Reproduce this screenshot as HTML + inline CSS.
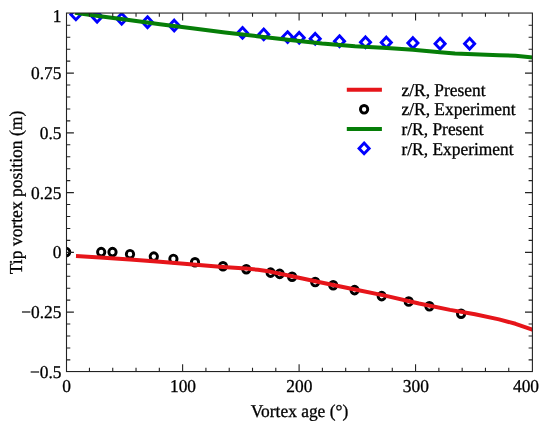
<!DOCTYPE html>
<html lang="en"><head><meta charset="utf-8"><title>Tip vortex position</title>
<style>html,body{margin:0;padding:0;background:#fff}svg{display:block}text{text-rendering:geometricPrecision;font-family:"Liberation Serif","DejaVu Serif",serif;font-size:17.4px;fill:#000;stroke:#000;stroke-width:0.3px}</style>
</head><body>
<svg width="550" height="430" viewBox="0 0 550 430">
<rect width="550" height="430" fill="#fff"/>
<defs><clipPath id="pa"><rect x="66.5" y="13.05" width="465.9" height="358.5"/></clipPath></defs>
<g clip-path="url(#pa)">
<g fill="none" stroke="#0000ff" stroke-width="2.9" stroke-linejoin="miter">
<path d="M75.9 9.05L80.95 14.4L75.9 19.75L70.85 14.4Z"/>
<path d="M97.1 11.35L102.15 16.7L97.1 22.05L92.05 16.7Z"/>
<path d="M121.7 13.45L126.75 18.8L121.7 24.15L116.65 18.8Z"/>
<path d="M147.5 16.85L152.55 22.2L147.5 27.55L142.45 22.2Z"/>
<path d="M174.2 20.15L179.25 25.5L174.2 30.85L169.15 25.5Z"/>
<path d="M242.5 27.55L247.55 32.9L242.5 38.25L237.45 32.9Z"/>
<path d="M263.7 29.05L268.75 34.4L263.7 39.75L258.65 34.4Z"/>
<path d="M287.6 31.75L292.65 37.1L287.6 42.45L282.55 37.1Z"/>
<path d="M299.2 32.45L304.25 37.8L299.2 43.15L294.15 37.8Z"/>
<path d="M315.2 33.45L320.25 38.8L315.2 44.15L310.15 38.8Z"/>
<path d="M339.5 35.85L344.55 41.2L339.5 46.55L334.45 41.2Z"/>
<path d="M365.5 36.95L370.55 42.3L365.5 47.65L360.45 42.3Z"/>
<path d="M386.3 37.15L391.35 42.5L386.3 47.85L381.25 42.5Z"/>
<path d="M412.9 37.65L417.95 43.0L412.9 48.35L407.85 43.0Z"/>
<path d="M440.1 38.35L445.15 43.7L440.1 49.05L435.05 43.7Z"/>
<path d="M469.6 38.35L474.65 43.7L469.6 49.05L464.55 43.7Z"/>
</g>
<polyline fill="none" stroke="#067e08" stroke-width="4" stroke-linejoin="round" points="75.0,12.8 100.0,16.2 127.0,19.8 160.0,24.2 192.0,28.3 225.0,32.5 257.0,36.2 290.0,40.0 322.0,43.5 355.0,46.2 387.0,48.0 413.0,49.7 440.0,52.3 455.0,53.6 480.0,54.6 499.0,55.2 515.5,55.8 533.0,57.6"/>
<g fill="none" stroke="#000" stroke-width="2.9">
<ellipse cx="66.2" cy="252.1" rx="3.65" ry="3.85"/>
<ellipse cx="101.2" cy="252.1" rx="3.65" ry="3.85"/>
<ellipse cx="112.5" cy="252.1" rx="3.65" ry="3.85"/>
<ellipse cx="130.0" cy="254.2" rx="3.65" ry="3.85"/>
<ellipse cx="153.8" cy="256.6" rx="3.65" ry="3.85"/>
<ellipse cx="173.4" cy="259.0" rx="3.65" ry="3.85"/>
<ellipse cx="195.0" cy="262.3" rx="3.65" ry="3.85"/>
<ellipse cx="223.0" cy="266.3" rx="3.65" ry="3.85"/>
<ellipse cx="246.3" cy="269.2" rx="3.65" ry="3.85"/>
<ellipse cx="270.6" cy="272.6" rx="3.65" ry="3.85"/>
<ellipse cx="279.7" cy="273.9" rx="3.65" ry="3.85"/>
<ellipse cx="292.1" cy="276.7" rx="3.65" ry="3.85"/>
<ellipse cx="315.2" cy="282.0" rx="3.65" ry="3.85"/>
<ellipse cx="333.2" cy="285.2" rx="3.65" ry="3.85"/>
<ellipse cx="354.6" cy="290.1" rx="3.65" ry="3.85"/>
<ellipse cx="381.7" cy="296.1" rx="3.65" ry="3.85"/>
<ellipse cx="408.7" cy="301.5" rx="3.65" ry="3.85"/>
<ellipse cx="429.4" cy="306.3" rx="3.65" ry="3.85"/>
<ellipse cx="461.1" cy="313.7" rx="3.65" ry="3.85"/>
</g>
<polyline fill="none" stroke="#e6151a" stroke-width="4" stroke-linejoin="round" points="76.0,256.1 100.0,257.5 130.0,259.6 160.0,261.8 190.0,264.3 223.0,266.9 246.0,268.6 258.0,269.8 270.0,271.6 292.0,276.3 320.0,282.3 355.0,289.5 385.0,295.6 419.0,303.5 450.0,309.9 475.0,314.3 499.0,319.4 515.5,323.8 533.0,329.8"/>
</g>
<g stroke="#222" stroke-width="1.1" fill="none">
<rect x="66.5" y="13.05" width="465.9" height="358.5"/>
<path d="M89.45 371.55v-3.8M89.45 13.05v3.8M112.74 371.55v-3.8M112.74 13.05v3.8M136.03 371.55v-3.8M136.03 13.05v3.8M159.33 371.55v-3.8M159.33 13.05v3.8M182.62 371.55v-7.4M182.62 13.05v7.4M205.92 371.55v-3.8M205.92 13.05v3.8M229.22 371.55v-3.8M229.22 13.05v3.8M252.51 371.55v-3.8M252.51 13.05v3.8M275.80 371.55v-3.8M275.80 13.05v3.8M299.10 371.55v-7.4M299.10 13.05v7.4M322.39 371.55v-3.8M322.39 13.05v3.8M345.69 371.55v-3.8M345.69 13.05v3.8M368.98 371.55v-3.8M368.98 13.05v3.8M392.28 371.55v-3.8M392.28 13.05v3.8M415.57 371.55v-7.4M415.57 13.05v7.4M438.87 371.55v-3.8M438.87 13.05v3.8M462.16 371.55v-3.8M462.16 13.05v3.8M485.46 371.55v-3.8M485.46 13.05v3.8M508.75 371.55v-3.8M508.75 13.05v3.8M66.50 25.30h3.8M532.40 25.30h-3.8M66.50 37.25h3.8M532.40 37.25h-3.8M66.50 49.20h3.8M532.40 49.20h-3.8M66.50 61.15h3.8M532.40 61.15h-3.8M66.50 73.10h7.4M532.40 73.10h-7.4M66.50 85.05h3.8M532.40 85.05h-3.8M66.50 97.00h3.8M532.40 97.00h-3.8M66.50 108.95h3.8M532.40 108.95h-3.8M66.50 120.90h3.8M532.40 120.90h-3.8M66.50 132.85h7.4M532.40 132.85h-7.4M66.50 144.80h3.8M532.40 144.80h-3.8M66.50 156.75h3.8M532.40 156.75h-3.8M66.50 168.70h3.8M532.40 168.70h-3.8M66.50 180.65h3.8M532.40 180.65h-3.8M66.50 192.60h7.4M532.40 192.60h-7.4M66.50 204.55h3.8M532.40 204.55h-3.8M66.50 216.50h3.8M532.40 216.50h-3.8M66.50 228.45h3.8M532.40 228.45h-3.8M66.50 240.40h3.8M532.40 240.40h-3.8M66.50 252.35h7.4M532.40 252.35h-7.4M66.50 264.30h3.8M532.40 264.30h-3.8M66.50 276.25h3.8M532.40 276.25h-3.8M66.50 288.20h3.8M532.40 288.20h-3.8M66.50 300.15h3.8M532.40 300.15h-3.8M66.50 312.10h7.4M532.40 312.10h-7.4M66.50 324.05h3.8M532.40 324.05h-3.8M66.50 336.00h3.8M532.40 336.00h-3.8M66.50 347.95h3.8M532.40 347.95h-3.8M66.50 359.90h3.8M532.40 359.90h-3.8"/>
</g>
<g text-anchor="end">
<text transform="translate(61.5 21.8) scale(1 1.04)">1</text>
<text transform="translate(61.5 79.2) scale(1 1.04)">0.75</text>
<text transform="translate(61.5 139.0) scale(1 1.04)">0.5</text>
<text transform="translate(61.5 198.7) scale(1 1.04)">0.25</text>
<text transform="translate(61.5 258.4) scale(1 1.04)">0</text>
<text transform="translate(61.5 318.2) scale(1 1.04)">−0.25</text>
<text transform="translate(61.5 377.9) scale(1 1.04)">−0.5</text>
</g>
<g text-anchor="middle">
<text transform="translate(66.5 391.9) scale(1 1.04)">0</text>
<text transform="translate(183.0 391.9) scale(1 1.04)">100</text>
<text transform="translate(299.4 391.9) scale(1 1.04)">200</text>
<text transform="translate(415.9 391.9) scale(1 1.04)">300</text>
<text transform="translate(526.0 391.9) scale(1 1.04)">400</text>
<text transform="translate(299.5 417.2) scale(1 1.04)">Vortex age (°)</text>
<text style="font-size:17.55px" transform="translate(21.5 192.5) rotate(-90) scale(1 1.04)">Tip vortex position (m)</text>
</g>
<path d="M346.8 89.7H381.9" stroke="#e6151a" stroke-width="4" fill="none"/>
<ellipse cx="364.1" cy="109.3" rx="3.65" ry="3.85" fill="none" stroke="#000" stroke-width="2.9"/>
<path d="M346.8 128.9H381.9" stroke="#067e08" stroke-width="4" fill="none"/>
<path d="M364.1 143.05L369.15 148.4L364.1 153.75L359.05 148.4Z" fill="none" stroke="#0000ff" stroke-width="2.9"/>
<text transform="translate(401.5 95.6) scale(1 1.04)">z/R, Present</text>
<text transform="translate(401.5 115.0) scale(1 1.04)">z/R, Experiment</text>
<text transform="translate(401.5 134.9) scale(1 1.04)">r/R, Present</text>
<text transform="translate(401.5 154.5) scale(1 1.04)">r/R, Experiment</text>
</svg>
</body></html>
